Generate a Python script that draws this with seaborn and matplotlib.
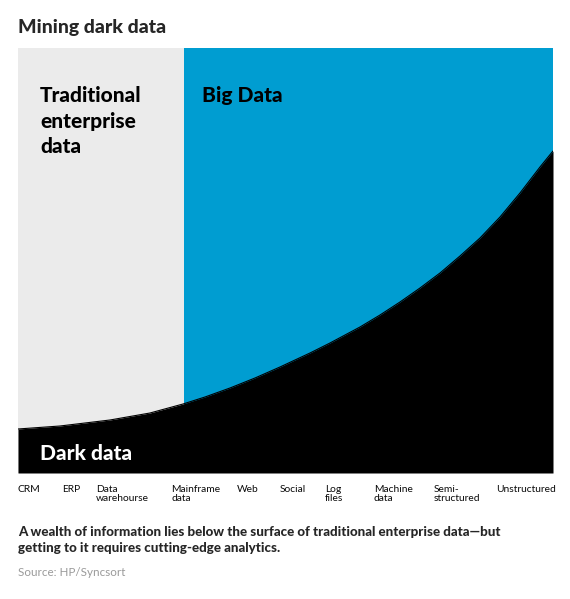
import numpy as np
import pandas as pd
import matplotlib
matplotlib.use('Agg')
import matplotlib.pyplot as plt
import seaborn as sns

# data (x: 0..535 across the panel, y: 0..425 up from the floor)
curve_x = [0, 42, 92, 132, 165, 187, 212, 237, 262, 292, 312, 342, 362, 382,
           402, 422, 442, 462, 482, 502, 522, 535]
curve_y = [44, 47, 53, 60, 69, 76, 85, 95, 106, 120, 130, 146, 158, 171,
           185, 200, 217, 235, 256, 280, 306, 322]

eras = ['Traditional\nenterprise\ndata', 'Big Data']
era_start = [0, 166]
era_end = [166, 535]
era_colors = ['#ebebeb', '#009dd1']
panel_top = 425

categories = ['CRM', 'ERP', 'Data\nwarehourse', 'Mainframe\ndata', 'Web', 'Social',
              'Log\nfiles', 'Machine\ndata', 'Semi-\nstructured', 'Unstructured']
category_pos = [0, 44, 78, 153, 219, 262, 307, 356, 416, 478]

title = 'Mining dark data'
caption = ('A wealth of information lies below the surface of traditional enterprise data\u2014but\n'
           'getting to it requires cutting-edge analytics.')
source = 'Source: HP/Syncsort'

sns.set_theme(style='white')
plt.rcParams['font.family'] = ['Lato', 'DejaVu Sans']

W, H = 570, 599
fig = plt.figure(figsize=(W / 100, H / 100), dpi=100)
ax = fig.add_axes([18 / W, 1 - 473 / H, 535 / W, 425 / H])

for name, x0, x1, c in zip(eras, era_start, era_end, era_colors):
    ax.fill_between([x0, x1], 0, panel_top, color=c, linewidth=0)

df = pd.DataFrame({'x': curve_x, 'y': curve_y})
ax.fill_between(df['x'], 0, df['y'], color='black', linewidth=0, zorder=3)
sns.lineplot(data=df, x='x', y='y', color='black', linewidth=0.8, ax=ax, zorder=4)

ax.set_xlim(0, 535)
ax.set_ylim(0, panel_top)
ax.set_xlabel('')
ax.set_ylabel('')
ax.set_yticks([])
ax.set_xticks(category_pos)
ax.set_xticklabels(categories, ha='left', va='top', fontsize=7.4,
                   linespacing=0.95, color='#0a0a0a')
ax.tick_params(axis='x', length=0, pad=9)
for s in ax.spines.values():
    s.set_visible(False)

# region labels
ax.text(22, 387, eras[0], fontsize=15, fontweight='black', va='top', ha='left',
        linespacing=1.42, color='black', zorder=5)
ax.text(184, 387, eras[1], fontsize=15, fontweight='black', va='top', ha='left',
        color='black', zorder=5)
ax.text(22, 20, 'Dark data', fontsize=15, fontweight='black', va='center', ha='left',
        color='white', zorder=5)

fig.text(18 / W, 1 - 27 / H, title, fontsize=14, fontweight='black', va='center', ha='left')
fig.text(18 / W, 1 - 526 / H, caption, fontsize=9.6, fontweight='black', va='top', ha='left',
         linespacing=1.4)
fig.text(18 / W, 1 - 573 / H, source, fontsize=8.4, fontweight='normal', color='#9a9a9a',
         va='center', ha='left')

fig.savefig('out.png', dpi=100)
